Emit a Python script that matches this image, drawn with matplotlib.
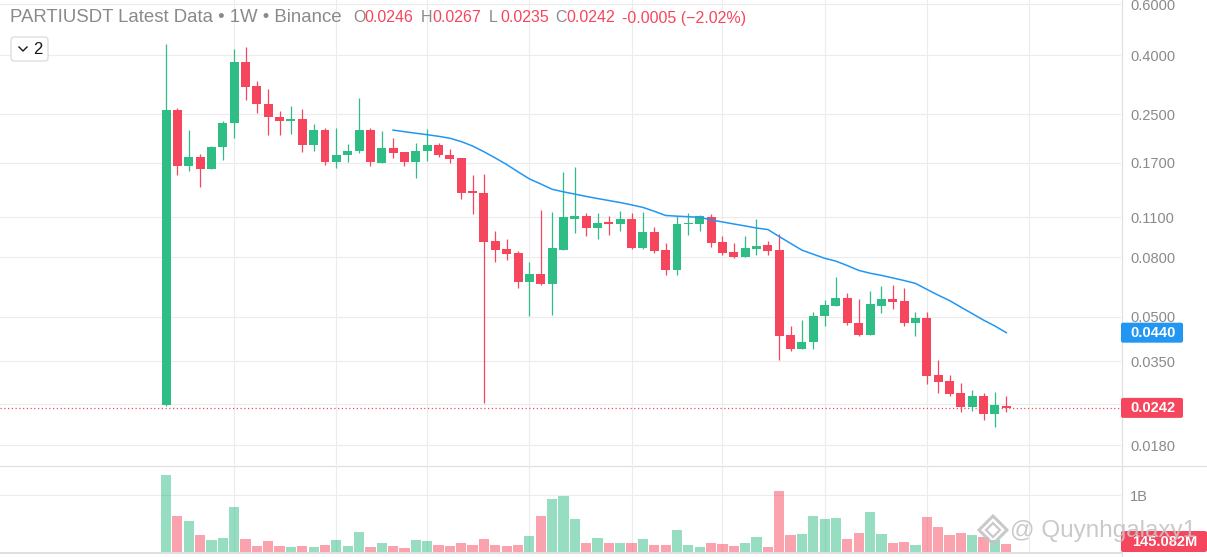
import matplotlib
matplotlib.use("Agg")
import matplotlib.pyplot as plt
from matplotlib.patches import FancyBboxPatch, Polygon
from matplotlib.lines import Line2D
from matplotlib.ticker import NullLocator, FixedLocator
from matplotlib.transforms import IdentityTransform

# ---------------- data (weekly PARTIUSDT candles) ----------------
opens = [0.0248, 0.258, 0.166, 0.178, 0.162, 0.192, 0.233, 0.378, 0.313, 0.272,
         0.245, 0.237, 0.240, 0.196, 0.220, 0.171, 0.181, 0.186, 0.220, 0.170,
         0.191, 0.185, 0.171, 0.186, 0.196, 0.181, 0.176, 0.135, 0.134, 0.091,
         0.0853, 0.0826, 0.0660, 0.0702, 0.0650, 0.085, 0.109, 0.111, 0.1014, 0.1052,
         0.104, 0.109, 0.0864, 0.098, 0.0846, 0.0726, 0.1040, 0.1045, 0.110, 0.0903,
         0.0834, 0.0805, 0.0857, 0.0880, 0.0849, 0.0431, 0.0387, 0.0408, 0.0501, 0.0546,
         0.0580, 0.0476, 0.0433, 0.0546, 0.0575, 0.0566, 0.0476, 0.0494, 0.0314, 0.0299,
         0.0272, 0.0244, 0.0266, 0.0231, 0.0246]
highs = [0.436, 0.262, 0.220, 0.182, 0.194, 0.237, 0.419, 0.426, 0.325, 0.305,
         0.256, 0.267, 0.260, 0.231, 0.224, 0.224, 0.197, 0.284, 0.224, 0.219,
         0.207, 0.185, 0.199, 0.222, 0.199, 0.189, 0.177, 0.154, 0.155, 0.0988,
         0.0927, 0.0842, 0.0771, 0.117, 0.115, 0.158, 0.164, 0.114, 0.114, 0.111,
         0.116, 0.114, 0.115, 0.102, 0.0898, 0.111, 0.114, 0.112, 0.113, 0.0949,
         0.0898, 0.0949, 0.1086, 0.0912, 0.0964, 0.0464, 0.0487, 0.0518, 0.0570, 0.0685,
         0.0603, 0.0575, 0.0613, 0.0638, 0.0643, 0.0628, 0.0518, 0.0518, 0.0354, 0.0314,
         0.0296, 0.0279, 0.0272, 0.0275, 0.0267]
lows = [0.0245, 0.154, 0.159, 0.140, 0.161, 0.174, 0.207, 0.280, 0.253, 0.211,
        0.212, 0.214, 0.185, 0.187, 0.167, 0.163, 0.171, 0.184, 0.166, 0.170,
        0.177, 0.165, 0.151, 0.172, 0.178, 0.169, 0.127, 0.113, 0.0251, 0.0774,
        0.0786, 0.0629, 0.0504, 0.0645, 0.0508, 0.085, 0.0974, 0.0952, 0.0929, 0.0959,
        0.0989, 0.0857, 0.0857, 0.0831, 0.0697, 0.0697, 0.0959, 0.0989, 0.0872, 0.0818,
        0.0794, 0.0800, 0.0818, 0.0818, 0.0354, 0.0381, 0.0386, 0.0387, 0.0465, 0.0542,
        0.0469, 0.0430, 0.0432, 0.0516, 0.0532, 0.0465, 0.0430, 0.0293, 0.0273, 0.0267,
        0.0234, 0.0236, 0.0219, 0.0208, 0.0235]
closes = [0.258, 0.166, 0.178, 0.162, 0.193, 0.233, 0.378, 0.311, 0.272, 0.245,
          0.237, 0.241, 0.196, 0.220, 0.171, 0.181, 0.187, 0.220, 0.171, 0.191,
          0.184, 0.171, 0.187, 0.196, 0.180, 0.175, 0.134, 0.134, 0.0907, 0.0851,
          0.0824, 0.0660, 0.0702, 0.0650, 0.0862, 0.110, 0.111, 0.1014, 0.105, 0.1045,
          0.109, 0.0864, 0.098, 0.0844, 0.0726, 0.1044, 0.1052, 0.111, 0.090, 0.0831,
          0.0805, 0.0864, 0.0878, 0.0844, 0.0430, 0.0387, 0.0409, 0.0502, 0.0548, 0.0580,
          0.0476, 0.0433, 0.0553, 0.0575, 0.0563, 0.0476, 0.0494, 0.0313, 0.0298, 0.0271,
          0.0244, 0.0266, 0.0231, 0.0247, 0.0242]
volumes_b = [1.349, 0.634, 0.547, 0.302, 0.215, 0.250, 0.791, 0.233, 0.110, 0.198,
             0.110, 0.093, 0.110, 0.093, 0.128, 0.215, 0.110, 0.355, 0.093, 0.163,
             0.110, 0.076, 0.215, 0.198, 0.128, 0.110, 0.163, 0.128, 0.233, 0.128,
             0.110, 0.128, 0.285, 0.634, 0.930, 0.983, 0.581, 0.163, 0.250, 0.163,
             0.163, 0.163, 0.233, 0.128, 0.128, 0.390, 0.128, 0.093, 0.163, 0.145,
             0.110, 0.163, 0.267, 0.093, 1.070, 0.302, 0.320, 0.634, 0.581, 0.599,
             0.233, 0.337, 0.703, 0.320, 0.163, 0.180, 0.128, 0.616, 0.442, 0.302,
             0.337, 0.302, 0.267, 0.215, 0.145082]
ma_start = 20
ma_values = [0.2202, 0.2174, 0.2148, 0.2123, 0.2096, 0.2064, 0.2010, 0.1940, 0.1854, 0.1764,
             0.1675, 0.1580, 0.1494, 0.1435, 0.1376, 0.1348, 0.1324, 0.1300, 0.1278, 0.1258,
             0.1238, 0.1215, 0.1191, 0.1155, 0.1117, 0.1111, 0.1106, 0.1101, 0.1078, 0.1061,
             0.1044, 0.1028, 0.1011, 0.0999, 0.0945, 0.0895, 0.0848, 0.0821, 0.0795, 0.0777,
             0.0750, 0.0722, 0.0706, 0.0694, 0.0680, 0.0666, 0.0651, 0.0621, 0.0593, 0.0568,
             0.0539, 0.0512, 0.0486, 0.0464, 0.0440]
price_ticks = [0.6, 0.4, 0.25, 0.17, 0.11, 0.08, 0.05, 0.035, 0.025, 0.018]
price_tick_labels = ["0.6000", "0.4000", "0.2500", "0.1700", "0.1100", "0.0800",
                     "0.0500", "0.0350", "", "0.0180"]
volume_ticks = [1e9]
volume_tick_labels = ["1B"]
month_grid = [6, 15, 23, 32, 41, 49, 58, 67, 76]
title = "PARTIUSDT Latest Data \u2022 1W \u2022 Binance"
ohlc_labels = ["O", "H", "L", "C"]
change_text = "-0.0005 (\u22122.02%)"
last_volume_label = "145.082M"
watermark = "@ Quynhgalaxy1"

# ---------------- style ----------------
W, H = 1207, 557
GREEN = "#2EBD85"
RED = "#F6465D"
BLUE = "#2196F3"
GRID = "#ececec"
BORDER = "#e0e0e0"
TXT = "#8a8a8a"
FONT = ["Liberation Sans", "DejaVu Sans"]
plt.rcParams["font.family"] = FONT

fig = plt.figure(figsize=(W / 100, H / 100), dpi=100)
fig.patch.set_facecolor("white")

def fx(px):
    return px / W

def fy(py_top):
    return 1 - py_top / H

AX_RIGHT = 1121
PRICE_BOTTOM = 465
VOL_TOP, VOL_BOTTOM = 466, 552

ax = fig.add_axes([0, fy(PRICE_BOTTOM), fx(AX_RIGHT), PRICE_BOTTOM / H])
axv = fig.add_axes([0, fy(VOL_BOTTOM), fx(AX_RIGHT), (VOL_BOTTOM - VOL_TOP) / H])

n = len(closes)
xs = list(range(n))
x_lo, x_hi = -14.62, 84.10
ax.set_xlim(x_lo, x_hi)
axv.set_xlim(x_lo, x_hi)
ax.set_yscale("log")
ax.set_ylim(0.015369, 0.6194)
axv.set_ylim(0, 1.509e9)

for a in (ax, axv):
    for s in a.spines.values():
        s.set_visible(False)
    a.set_facecolor("white")
    a.xaxis.set_major_locator(FixedLocator(month_grid))
    a.tick_params(axis="x", length=0, labelbottom=False)
    a.grid(True, axis="x", color=GRID, lw=0.8, zorder=0)
    a.set_axisbelow(True)

ax.yaxis.set_major_locator(FixedLocator(price_ticks))
ax.yaxis.set_minor_locator(NullLocator())
ax.set_yticklabels(price_tick_labels)
ax.yaxis.tick_right()
ax.tick_params(axis="y", length=0, pad=6.5, labelsize=10.5, labelcolor=TXT)
ax.grid(True, axis="y", which="major", color=GRID, lw=0.8, zorder=0)

axv.yaxis.set_major_locator(FixedLocator(volume_ticks))
axv.set_yticklabels(volume_tick_labels)
axv.yaxis.tick_right()
axv.tick_params(axis="y", length=0, pad=6.5, labelsize=10.5, labelcolor=TXT)
axv.grid(True, axis="y", color=GRID, lw=0.8, zorder=0)

# candles
colors = [GREEN if c >= o else RED for o, c in zip(opens, closes)]
ax.vlines(xs, lows, highs, colors=colors, lw=0.9, zorder=3)
bottoms = [min(o, c) for o, c in zip(opens, closes)]
heights = [max(abs(c - o), min(o, c) * 0.012) for o, c in zip(opens, closes)]
ax.bar(xs, heights, bottom=bottoms, width=0.79, color=colors, lw=0, zorder=4)

# moving average
ax.plot(range(ma_start, ma_start + len(ma_values)), ma_values, color=BLUE, lw=1.1, zorder=5)

# last price dotted line
last_price = closes[-1]
ax.axhline(last_price, color=RED, lw=0.9, ls=(0, (1, 2)), zorder=2)

# volume bars
axv.bar(xs, [v * 1e9 for v in volumes_b], width=0.9, color=colors, alpha=0.5, lw=0, zorder=3)

# borders
fig.add_artist(Line2D([fx(AX_RIGHT + 0.5)] * 2, [0, 1], color=BORDER, lw=0.9))
fig.add_artist(Line2D([0, 1], [fy(PRICE_BOTTOM + 0.5)] * 2, color=BORDER, lw=0.9))
fig.add_artist(Line2D([0, fx(AX_RIGHT)], [fy(VOL_BOTTOM + 1)] * 2, color=BORDER, lw=1.4))

fig.canvas.draw()

def label_box(y_disp, text, color, x0=AX_RIGHT, x1=1183, h=20):
    box = FancyBboxPatch((x0, y_disp - h / 2), x1 - x0, h,
                         boxstyle="round,pad=0,rounding_size=2",
                         transform=IdentityTransform(), fc=color, ec="none", zorder=20)
    fig.add_artist(box)
    fig.text(fx((x0 + x1) / 2 + 1), y_disp / H, text, color="white", ha="center", va="center",
             fontsize=10.5, fontweight="bold", zorder=21)

ma_last = ma_values[-1]
label_box(ax.transData.transform((0, ma_last))[1], f"{ma_last:.4f}", BLUE)
label_box(ax.transData.transform((0, last_price))[1], f"{last_price:.4f}", RED)
vy = axv.transData.transform((0, volumes_b[-1] * 1e9))[1]
vy = max(vy, fy(VOL_BOTTOM) * H + 10.5)
label_box(vy, last_volume_label, RED, x1=1207, h=21)

# header legend
ty = fy(18)
fig.text(fx(10), ty, title, color=TXT, fontsize=13.4, va="center", ha="left")
vals = [opens[-1], highs[-1], lows[-1], closes[-1]]
letter_x = [353, 421, 489, 555]
for lx, lab, v in zip(letter_x, ohlc_labels, vals):
    fig.text(fx(lx), ty, lab, color=TXT, fontsize=11.5, va="center", ha="left")
    fig.text(fx(lx + 11), ty, f"{v:.4f}", color=RED, fontsize=11.5, va="center", ha="left")
fig.text(fx(622), ty, change_text, color=RED, fontsize=11.5, va="center", ha="left")

# collapse button
btn = FancyBboxPatch((11, H - 61), 37, 24, boxstyle="round,pad=0,rounding_size=3",
                     transform=IdentityTransform(), fc="white", ec="#d6d6d6", lw=0.8, zorder=20)
fig.add_artist(btn)
fig.add_artist(Line2D([fx(19), fx(23), fx(27)], [fy(47), fy(51), fy(47)],
                      color="#131722", lw=1.0, zorder=21))
fig.text(fx(33), fy(49), "2", color="#131722", fontsize=12, va="center", ha="left", zorder=21)

# watermark (overlaps the volume label, as in the source screenshot)
wm_c = "#c4c4c4"
fig.add_artist(Polygon([[fx(993), fy(516)], [fx(1007), fy(530)], [fx(993), fy(544)], [fx(979), fy(530)]],
                       closed=True, transform=fig.transFigure, fc="none", ec=wm_c, lw=2.2,
                       alpha=0.9, zorder=30))
fig.add_artist(Polygon([[fx(993), fy(523)], [fx(1000), fy(530)], [fx(993), fy(537)], [fx(986), fy(530)]],
                       closed=True, transform=fig.transFigure, fc="none", ec=wm_c, lw=1.6,
                       alpha=0.9, zorder=30))
fig.text(fx(1010), fy(531), watermark, color=wm_c, fontsize=17.5, va="center", ha="left",
         alpha=0.9, zorder=30)

fig.savefig("out.png", dpi=100)
